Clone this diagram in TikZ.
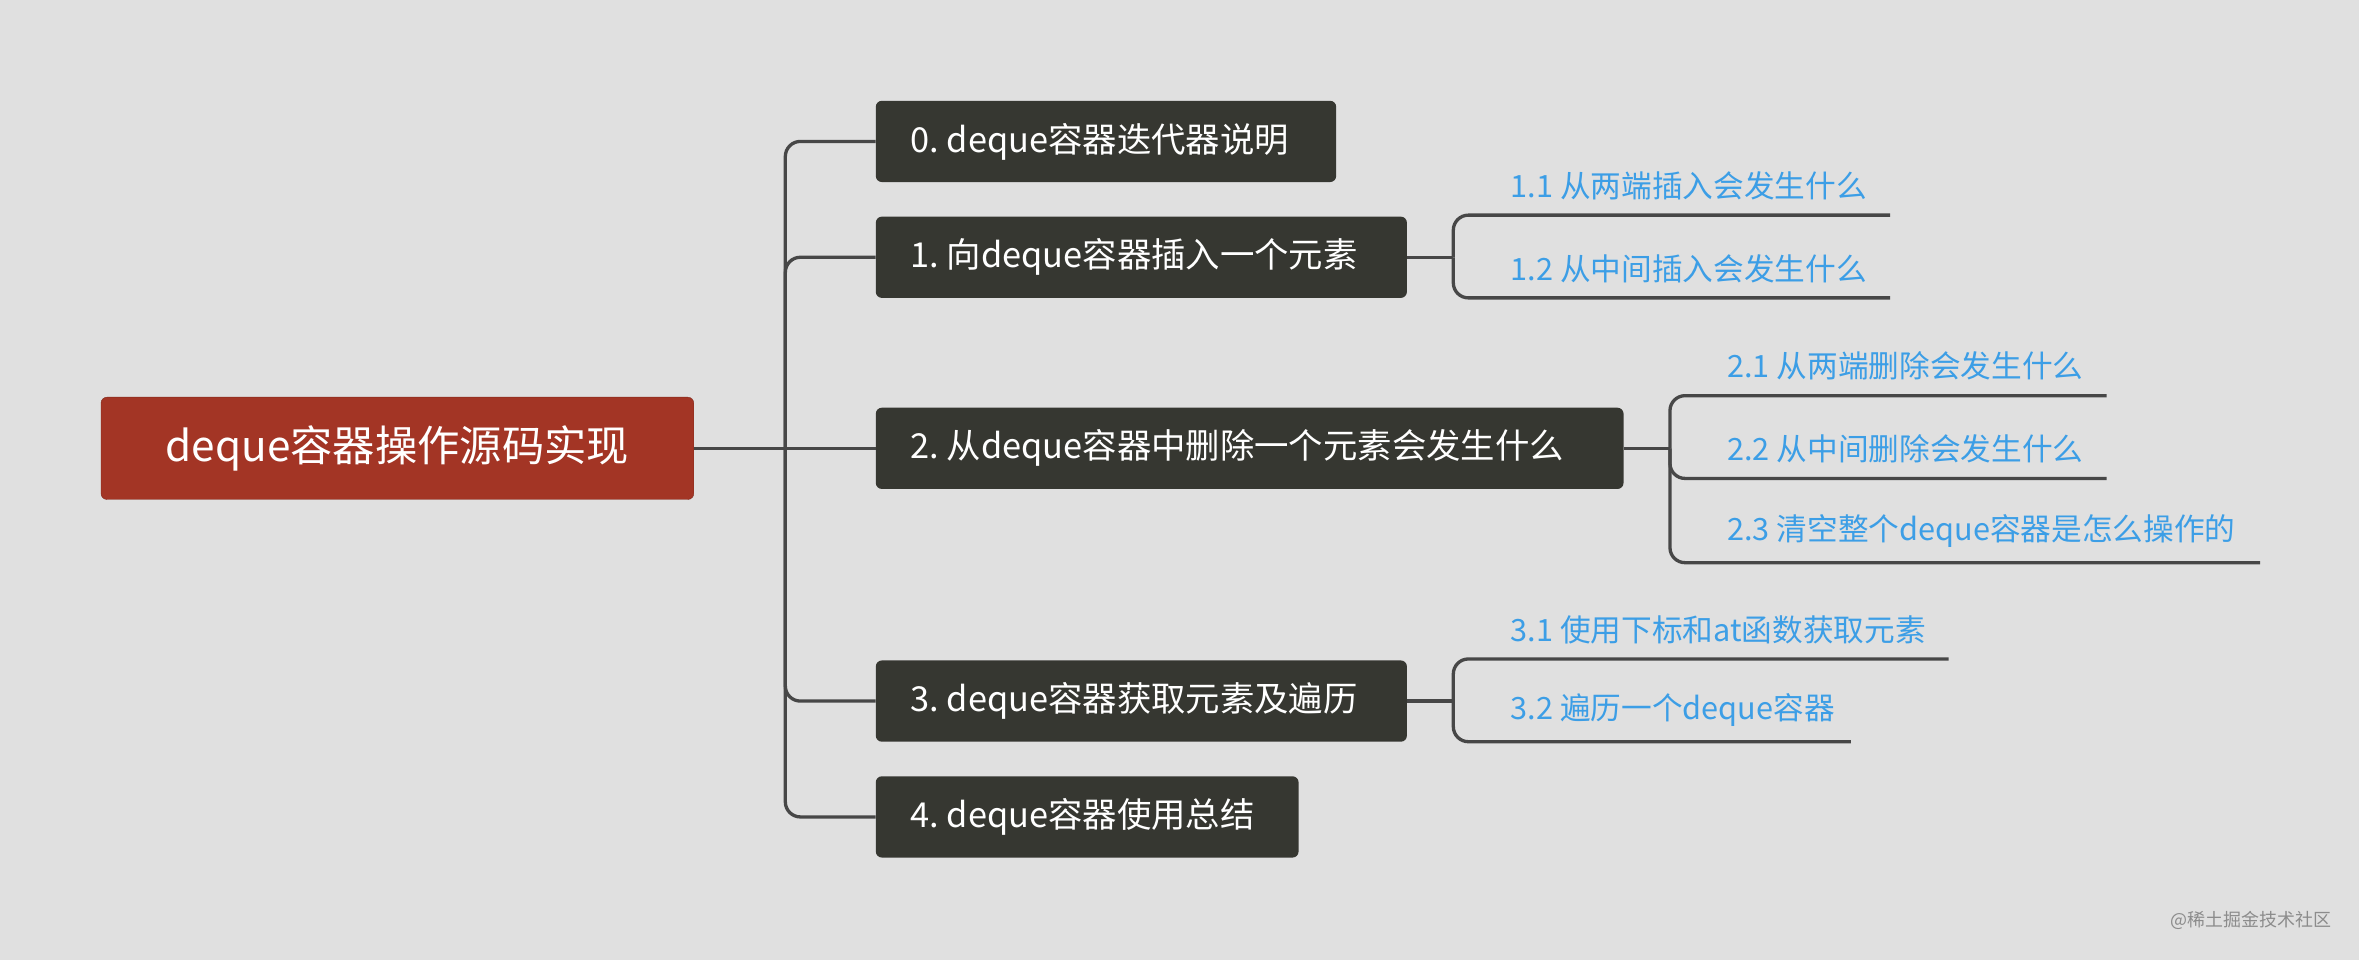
\documentclass[tikz,border=0pt]{standalone}
\usepackage{fontspec}
\setmainfont{Noto Sans CJK SC}
\newcommand\lbx[2]{\makebox[#1][l]{#2}}
\begin{document}
\frenchspacing
\begin{tikzpicture}[x=0.5mm,y=-0.5mm,
  conn/.style={draw=black!72, line width=1.1mm, rounded corners=5mm},
  root/.style={fill=rootc, draw=rootc!80!black, rounded corners=2mm, text=white, font=\fontsize{40}{44}\selectfont, minimum width=197mm, minimum height=34mm, anchor=west},
  main/.style={fill=mainc, rounded corners=2mm, text=white, font=\fontsize{32.5}{36}\selectfont, minimum height=27mm, inner xsep=11.5mm, anchor=west},
  sub/.style={text=subc, font=\fontsize{29}{33}\selectfont, inner xsep=5mm, inner ysep=5mm, anchor=south west}]
\definecolor{rootc}{HTML}{A33525}
\definecolor{mainc}{HTML}{363731}
\definecolor{subc}{HTML}{3C9EE6}
\fill[fill={rgb,255:red,224;green,224;blue,224}] (0,0) rectangle (1568,638);
\useasboundingbox (0,0) rectangle (1568,638);
\node[root] (r) at (67,298) {deque容器操作源码实现};
\node[main] (m0) at (582,94) {\lbx{130mm}{0. deque容器迭代器说明}};
\node[main] (m1) at (582,171) {\lbx{153.5mm}{1. 向deque容器插入一个元素}};
\node[main] (m2) at (582,298) {\lbx{225.5mm}{2. 从deque容器中删除一个元素会发生什么}};
\node[main] (m3) at (582,466) {\lbx{153.5mm}{3. deque容器获取元素及遍历}};
\node[main] (m4) at (582,543) {\lbx{117.5mm}{4. deque容器使用总结}};
\coordinate (t) at (522,298);
\draw[conn] (r.east) -- (m2.west);
\foreach \m in {m0,m1,m3,m4} \draw[conn] (t) |- (\m.west);
\node[sub] (s11) at (994,143) {\lbx{121mm}{1.1 从两端插入会发生什么}};
\node[sub] (s12) at (994,198) {\lbx{121mm}{1.2 从中间插入会发生什么}};
\node[sub] (s21) at (1138,263) {\lbx{121mm}{2.1 从两端删除会发生什么}};
\node[sub] (s22) at (1138,318) {\lbx{121mm}{2.2 从中间删除会发生什么}};
\node[sub] (s23) at (1138,374) {\lbx{172mm}{2.3 清空整个deque容器是怎么操作的}};
\node[sub] (s31) at (994,438) {\lbx{140.5mm}{3.1 使用下标和at函数获取元素}};
\node[sub] (s32) at (994,493) {\lbx{108mm}{3.2 遍历一个deque容器}};
\coordinate (b1) at (966,171);
\coordinate (b2) at (1110,298);
\coordinate (b3) at (966,466);
\draw[conn] (m1.east) -- (b1);
\draw[conn] (m2.east) -- (b2);
\draw[conn] (m3.east) -- (b3);
\foreach \s/\b in {s11/b1,s12/b1,s21/b2,s22/b2,s23/b2,s31/b3,s32/b3}
  \draw[conn] (\b) |- (\s.south west) -- (\s.south east);
\node[text=black!45, font=\fontsize{17}{20}\selectfont, anchor=east] (wm) at (1552,612) {@稀土掘金技术社区};
\end{tikzpicture}
\end{document}
